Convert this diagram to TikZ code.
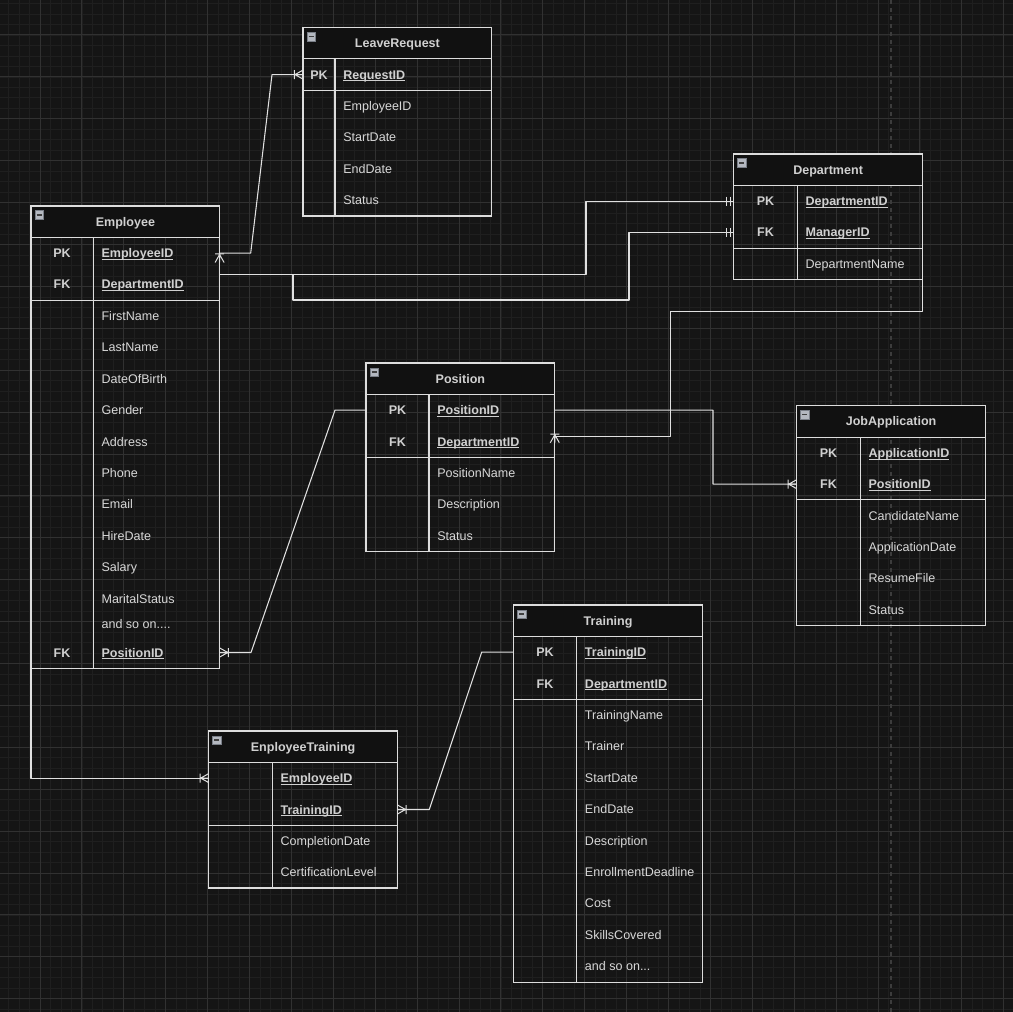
\documentclass[tikz,border=0pt]{standalone}
\usepackage{fontspec}
\setmainfont{Liberation Sans}
\definecolor{bgc}{HTML}{151515}
\definecolor{gridminor}{HTML}{1F1F1F}
\definecolor{gridmajor}{HTML}{313131}
\definecolor{pagec}{HTML}{3C3C3C}
\definecolor{bord}{HTML}{DDDDDD}
\definecolor{headc}{HTML}{111111}
\definecolor{txtc}{HTML}{D8D8D8}
\definecolor{boldc}{HTML}{D0D0D0}
\definecolor{connc}{HTML}{E0E0E0}
\definecolor{iconfill}{HTML}{B4B8C0}
\definecolor{iconbord}{HTML}{7A7F88}
\newcommand{\ulkey}[1]{\setbox0=\hbox{#1}\rlap{\rule[-1.5pt]{\wd0}{0.55pt}}\box0}
\newcommand{\setT}[4]{\def\tL{#1}\def\tT{#2}\def\tD{#3}\def\tKC{#4}}
% name, left, top, bottom, title, separator (in row units)
\newcommand{\ertable}[6]{%
  \node[tabframe, anchor=north west, minimum width=141.6pt, minimum height={(#4-#3)*0.75pt}] (#1) at (#2,#3) {};
  \node[tabhead, anchor=north west, minimum width=141.6pt, minimum height=23.55pt] (#1-head) at (#2,#3) {#5};
  \node[iconbox, anchor=north west] (#1-icon) at ({#2+3.5},{#3+4.5}) {};
  \draw[tabline] (\tD,{#3+31.4}) -- (\tD,#4);
  \draw[tabline] (#2,{#3+31.4*#6}) -- ({#2+188.8},{#3+31.4*#6});
}
\newcommand{\errow}[3]{%
  \coordinate (#1) at (\tD,{\tT+31.4*(1.5+#2)});
  \node[fieldtxt] (#1-f) at ({\tD+8},{\tT+31.4*(1.5+#2)+4.5}) {#3};}
\newcommand{\erulrow}[3]{%
  \coordinate (#1) at (\tD,{\tT+31.4*(1.5+#2)});
  \node[keyfield] (#1-f) at ({\tD+8},{\tT+31.4*(1.5+#2)+4.5}) {\ulkey{#3}};}
\newcommand{\erkeyrow}[4]{%
  \erulrow{#1}{#2}{#4}
  \node[keytxt] (#1-k) at (\tKC,{\tT+31.4*(1.5+#2)+4.5}) {#3};}
\newcommand{\crow}[2]{%
  \begin{scope}[shift={(#1)}, rotate=#2]
    \draw[mk] (0,-4.5) -- (8,0) -- (0,4.5) (0,0) -- (8,0) (8.6,-4.5) -- (8.6,4.5);
  \end{scope}}
\newcommand{\onebar}[1]{%
  \begin{scope}[shift={(#1)}]
    \draw[mk] (-7,-4.5) -- (-7,4.5) (-3,-4.5) -- (-3,4.5);
  \end{scope}}
\begin{document}
\begin{tikzpicture}[x=0.75pt,y=-0.75pt,
  tabframe/.style={draw=bord, line width=0.85pt, inner sep=0pt, outer sep=0pt, rectangle},
  tabhead/.style={draw=bord, fill=headc, line width=0.85pt, inner sep=0pt, outer sep=0pt, text=boldc,
    text height=6.8pt, text depth=0pt, font=\bfseries\fontsize{9.4}{11}\selectfont},
  tabline/.style={draw=bord, line width=0.8pt},
  fieldtxt/.style={text=txtc, font=\fontsize{9.4}{11}\selectfont, inner sep=0pt, anchor=base west},
  keyfield/.style={fieldtxt, text=boldc, font=\bfseries\fontsize{9.4}{11}\selectfont},
  keytxt/.style={text=boldc, font=\bfseries\fontsize{9.4}{11}\selectfont, inner sep=0pt, anchor=base},
  iconbox/.style={draw=iconbord, fill=iconfill, minimum size=6.4pt, inner sep=0pt, line width=0.4pt, rectangle,
    path picture={\draw[line width=0.9pt, draw=black!75] ([xshift=1.3pt]path picture bounding box.west) -- ([xshift=-1.3pt]path picture bounding box.east);}},
  conn/.style={draw=connc, line width=0.8pt, line join=round},
  mk/.style={draw=connc, line width=0.75pt}
]
\useasboundingbox (0,0) rectangle (1013,1012);
\fill[bgc] (0,0) rectangle (1013,1012);
% grid
\foreach \i in {0,...,97} {
  \draw[gridminor, line width=0.55pt] ({-1.9+10.475*\i},0) -- ({-1.9+10.475*\i},1012);
  \draw[gridminor, line width=0.55pt] (0,{-6.9+10.475*\i}) -- (1013,{-6.9+10.475*\i});
}
\foreach \i in {0,...,25} {
  \draw[gridmajor, line width=0.75pt] ({-1.9+41.9*\i},0) -- ({-1.9+41.9*\i},1012);
  \draw[gridmajor, line width=0.75pt] (0,{-6.9+41.9*\i}) -- (1013,{-6.9+41.9*\i});
}
\draw[pagec, line width=0.8pt, dash pattern=on 3pt off 3pt] (891,0) -- (891,1012);

% ---------- tables ----------
% Employee
\setT{31}{206}{93.3}{62}
\ertable{emp}{31}{206}{668.3}{Employee}{3}
\erkeyrow{emp-pk}{0}{PK}{EmployeeID}
\erkeyrow{emp-fk}{1}{FK}{DepartmentID}
\errow{emp-r2}{2}{FirstName}
\errow{emp-r3}{3}{LastName}
\errow{emp-r4}{4}{DateOfBirth}
\errow{emp-r5}{5}{Gender}
\errow{emp-r6}{6}{Address}
\errow{emp-r7}{7}{Phone}
\errow{emp-r8}{8}{Email}
\errow{emp-r9}{9}{HireDate}
\errow{emp-r10}{10}{Salary}
\errow{emp-r11}{11}{MaritalStatus}
\errow{emp-r12}{11.81}{and so on....}
\erkeyrow{emp-pos}{12.72}{FK}{PositionID}

% LeaveRequest
\setT{303}{27.5}{335}{319}
\ertable{lr}{303}{27.5}{216}{LeaveRequest}{2}
\erkeyrow{lr-pk}{0}{PK}{RequestID}
\errow{lr-r1}{1}{EmployeeID}
\errow{lr-r2}{2}{StartDate}
\errow{lr-r3}{3}{EndDate}
\errow{lr-r4}{4}{Status}

% Department
\setT{733.7}{154}{797.3}{765.5}
\ertable{dept}{733.7}{154}{279.6}{Department}{3}
\erkeyrow{dept-pk}{0}{PK}{DepartmentID}
\erkeyrow{dept-fk}{1}{FK}{ManagerID}
\errow{dept-r2}{2}{DepartmentName}

% Position
\setT{366}{363}{429}{397.5}
\ertable{pos}{366}{363}{551.4}{Position}{3}
\erkeyrow{pos-pk}{0}{PK}{PositionID}
\erkeyrow{pos-fk}{1}{FK}{DepartmentID}
\errow{pos-r2}{2}{PositionName}
\errow{pos-r3}{3}{Description}
\errow{pos-r4}{4}{Status}

% JobApplication
\setT{796.7}{405.7}{860.3}{828.5}
\ertable{ja}{796.7}{405.7}{625.5}{JobApplication}{3}
\erkeyrow{ja-pk}{0}{PK}{ApplicationID}
\erkeyrow{ja-fk}{1}{FK}{PositionID}
\errow{ja-r2}{2}{CandidateName}
\errow{ja-r3}{3}{ApplicationDate}
\errow{ja-r4}{4}{ResumeFile}
\errow{ja-r5}{5}{Status}

% Training
\setT{513.7}{605}{576.7}{545}
\ertable{tr}{513.7}{605}{982.5}{Training}{3}
\erkeyrow{tr-pk}{0}{PK}{TrainingID}
\erkeyrow{tr-fk}{1}{FK}{DepartmentID}
\errow{tr-r2}{2}{TrainingName}
\errow{tr-r3}{3}{Trainer}
\errow{tr-r4}{4}{StartDate}
\errow{tr-r5}{5}{EndDate}
\errow{tr-r6}{6}{Description}
\errow{tr-r7}{7}{EnrollmentDeadline}
\errow{tr-r8}{8}{Cost}
\errow{tr-r9}{9}{SkillsCovered}
\errow{tr-r10}{10}{and so on...}

% EnployeeTraining
\setT{208.7}{731}{272.3}{240.5}
\ertable{et}{208.7}{731}{888}{EnployeeTraining}{3}
\erulrow{et-emp}{0}{EmployeeID}
\erulrow{et-tr}{1}{TrainingID}
\errow{et-r2}{2}{CompletionDate}
\errow{et-r3}{3}{CertificationLevel}

% ---------- connectors ----------
\coordinate (empD) at (219.6,274.8);
\coordinate (empDbranch) at (293,274.8);
\coordinate (empLRmark) at (219.6,262.5);
\coordinate (posD) at (554.8,436.7);
\coordinate (posDmark) at (554.8,442.7);

% Employee -- LeaveRequest
\draw[conn] (emp.east |- emp-pk) -- (250.7,253.1) -- (272,74.6) -- (lr.west |- lr-pk);
% Employee -- Department (PK)
\draw[conn] (empD) -- (586,274.8) |- (dept.west |- dept-pk);
% Employee -- Department (FK)
\draw[conn] (empDbranch) -- (293,300) -- (629,300) |- (dept.west |- dept-fk);
% Department -- Position
\draw[conn] (dept.south east) -- (922.5,311.7) -- (670.9,311.7) -- (670.9,436.7) -- (posD);
% Position -- Employee
\draw[conn] (pos.west |- pos-pk) -- (335,410.1) -- (251,652.5) -- (emp.east |- emp-pos);
% Position -- JobApplication
\draw[conn] (pos.east |- pos-pk) -- (713,410.1) |- (ja.west |- ja-fk);
% Training -- EnployeeTraining
\draw[conn] (tr.west |- tr-pk) -- (481.7,652.1) -- (429.3,809.5) -- (et.east |- et-tr);
% Employee -- EnployeeTraining
\draw[conn] (emp.south west) |- (et.west |- et-emp);

% ---------- markers ----------
\crow{lr.west |- lr-pk}{180}
\crow{empLRmark}{90}
\crow{posDmark}{90}
\crow{emp.east |- emp-pos}{0}
\crow{ja.west |- ja-fk}{180}
\crow{et.east |- et-tr}{0}
\crow{et.west |- et-emp}{180}
\onebar{dept.west |- dept-pk}
\onebar{dept.west |- dept-fk}
\end{tikzpicture}
\end{document}
